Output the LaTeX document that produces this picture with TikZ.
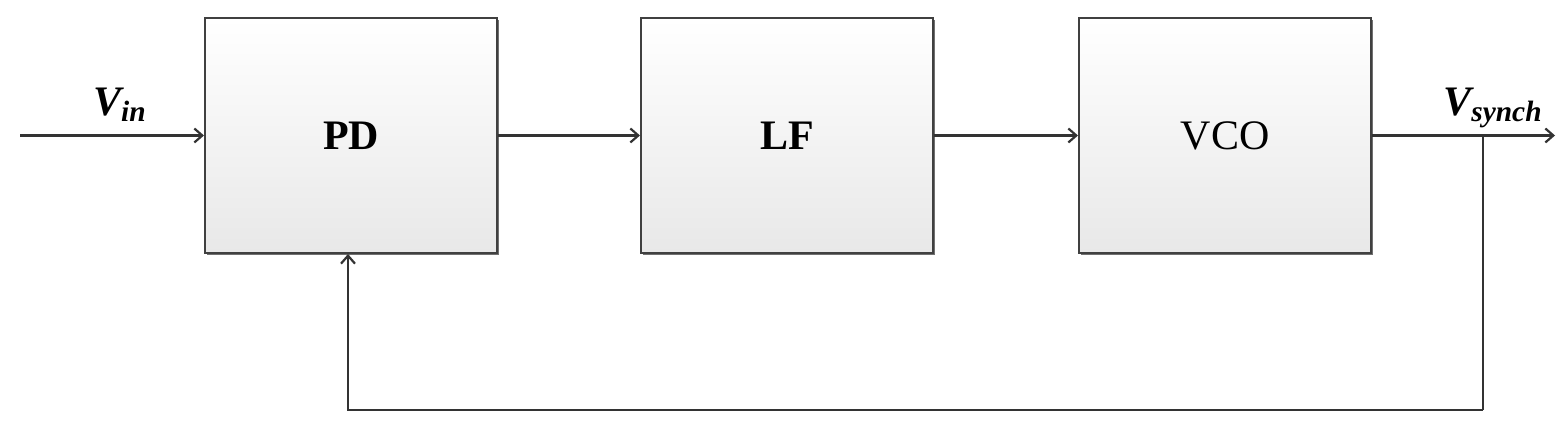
\documentclass[tikz,border=0pt]{standalone}
\usepackage{fontspec}
\setmainfont{Liberation Serif}
\usetikzlibrary{positioning,arrows.meta,shadows}

\begin{document}
\begin{tikzpicture}[x=0.5pt,y=0.5pt,
    block/.style={draw=black!75,line width=1pt,minimum width=146pt,minimum height=117.5pt,
        top color=white,bottom color=black!9,
        drop shadow={shadow xshift=0.8pt,shadow yshift=-0.8pt,fill=black!70,opacity=0.8},
        font=\fontsize{21}{25}\selectfont},
    signal/.style={line width=1.1pt,draw=black!80,-{Straight Barb[length=4pt,width=7pt]}},
    wire/.style={line width=1.1pt,draw=black!80},
    label/.style={font=\fontsize{21}{25}\selectfont\bfseries\itshape}]
  \useasboundingbox (0,0) rectangle (1561,442);

  % blocks
  \node[block] (pd) at (351,306.5) {\textbf{PD}};
  \node[block,right=71pt of pd] (lf) {\textbf{LF}};
  \node[block,right=72pt of lf] (vco) {VCO};

  \coordinate (in) at (20,306.5);
  \coordinate (out) at (1555,306.5);
  \coordinate (tap) at (1483,306.5);
  \coordinate (fb) at (1483,32);

  % forward path
  \draw[signal] (in) -- (pd.west);
  \draw[signal] (pd.east) -- (lf.west);
  \draw[signal] (lf.east) -- (vco.west);
  \draw[signal] (vco.east) -- (out);

  % feedback
  \draw[wire] (tap) -- (fb);
  \draw[signal] (fb) -| ([xshift=-1.5pt]pd.south);

  \node[label] (vin) at (120,337) {V\textsubscript{in}};
  \node[label] (vsynch) at (1493,334) {V\textsubscript{synch}};
\end{tikzpicture}
\end{document}
